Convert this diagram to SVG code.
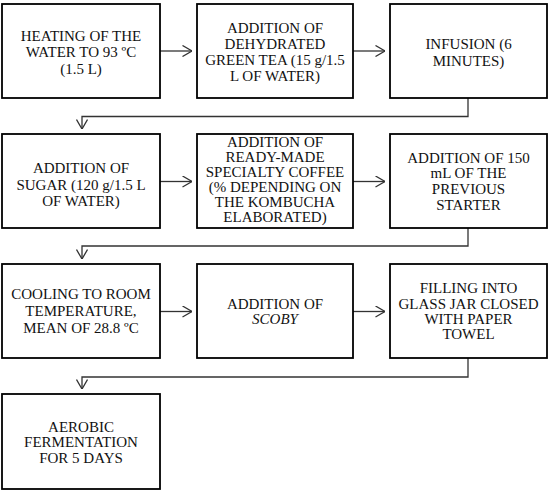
<svg xmlns="http://www.w3.org/2000/svg" width="550" height="493" viewBox="0 0 550 493">
<style>
.box{fill:#fff;stroke:#000;stroke-width:1.8}
.t{font-family:'Liberation Serif','Times New Roman','DejaVu Serif',serif;font-size:15px;fill:#111;text-anchor:middle}
.c{fill:none;stroke:#333;stroke-width:1.3}
</style>
<defs>
<marker id="ah" viewBox="0 0 10 12" refX="10" refY="6" markerWidth="10" markerHeight="12" markerUnits="userSpaceOnUse" orient="auto">
<path d="M0.5,0.5 L10,6 L0.5,11.5" fill="none" stroke="#333" stroke-width="1.3"/>
</marker>
</defs>
<rect width="550" height="493" fill="#fff"/>
<g id="connectors">
<line class="c" x1="160" y1="51" x2="192" y2="51" marker-end="url(#ah)"/>
<line class="c" x1="353" y1="51" x2="385" y2="51" marker-end="url(#ah)"/>
<polyline class="c" points="468,98 468,116.5 82,116.5 82,129" marker-end="url(#ah)"/>
<line class="c" x1="160" y1="181.5" x2="192" y2="181.5" marker-end="url(#ah)"/>
<line class="c" x1="353" y1="181.5" x2="385" y2="181.5" marker-end="url(#ah)"/>
<polyline class="c" points="468,228 468,246 82,246 82,259" marker-end="url(#ah)"/>
<line class="c" x1="160" y1="311.5" x2="192" y2="311.5" marker-end="url(#ah)"/>
<line class="c" x1="353" y1="311.5" x2="385" y2="311.5" marker-end="url(#ah)"/>
<polyline class="c" points="468,358 468,377 82,377 82,389" marker-end="url(#ah)"/>
</g>
<g font-family="Liberation Serif, serif">
<g id="n1"><rect class="box" x="2" y="4" width="158" height="94"/>
<text class="t" x="81" y="40.7">HEATING OF THE</text><text class="t" x="81" y="57.3">WATER TO 93 ºC</text><text class="t" x="81" y="74">(1.5 L)</text></g>
<g id="n2"><rect class="box" x="197" y="4" width="156" height="94"/>
<text class="t" x="275" y="33.3">ADDITION OF</text><text class="t" x="275" y="49.3">DEHYDRATED</text><text class="t" x="275" y="65.3">GREEN TEA (15 g/1.5</text><text class="t" x="275" y="81.3">L OF WATER)</text></g>
<g id="n3"><rect class="box" x="390" y="4" width="157" height="94"/>
<text class="t" x="468.5" y="49.3">INFUSION (6</text><text class="t" x="468.5" y="66.3">MINUTES)</text></g>
<g id="n4"><rect class="box" x="2" y="134" width="158" height="94"/>
<text class="t" x="81" y="173.3">ADDITION OF</text><text class="t" x="81" y="189.8">SUGAR (120 g/1.5 L</text><text class="t" x="81" y="206.3">OF WATER)</text></g>
<g id="n5"><rect class="box" x="197" y="134" width="156" height="94"/>
<text class="t" x="275" y="146.7">ADDITION OF</text><text class="t" x="275" y="161.7">READY-MADE</text><text class="t" x="275" y="176.7">SPECIALTY COFFEE</text><text class="t" x="275" y="191.7">(% DEPENDING ON</text><text class="t" x="275" y="206.7">THE KOMBUCHA</text><text class="t" x="275" y="221.7">ELABORATED)</text></g>
<g id="n6"><rect class="box" x="390" y="134" width="157" height="94"/>
<text class="t" x="468.5" y="162.7">ADDITION OF 150</text><text class="t" x="468.5" y="178.3">mL OF THE</text><text class="t" x="468.5" y="194">PREVIOUS</text><text class="t" x="468.5" y="209.6">STARTER</text></g>
<g id="n7"><rect class="box" x="2" y="264" width="158" height="94"/>
<text class="t" x="81" y="299.3">COOLING TO ROOM</text><text class="t" x="81" y="316">TEMPERATURE,</text><text class="t" x="81" y="332.7">MEAN OF 28.8 ºC</text></g>
<g id="n8"><rect class="box" x="197" y="264" width="156" height="94"/>
<text class="t" x="275" y="309.3">ADDITION OF</text><text class="t" x="275" y="324.3" font-style="italic">SCOBY</text></g>
<g id="n9"><rect class="box" x="390" y="264" width="157" height="94"/>
<text class="t" x="468.5" y="293.3">FILLING INTO</text><text class="t" x="468.5" y="308.6">GLASS JAR CLOSED</text><text class="t" x="468.5" y="323.9">WITH PAPER</text><text class="t" x="468.5" y="339.2">TOWEL</text></g>
<g id="n10"><rect class="box" x="2" y="394" width="158" height="95"/>
<text class="t" x="81" y="431.7">AEROBIC</text><text class="t" x="81" y="447.4">FERMENTATION</text><text class="t" x="81" y="462.9">FOR 5 DAYS</text></g>
</g>
</svg>
